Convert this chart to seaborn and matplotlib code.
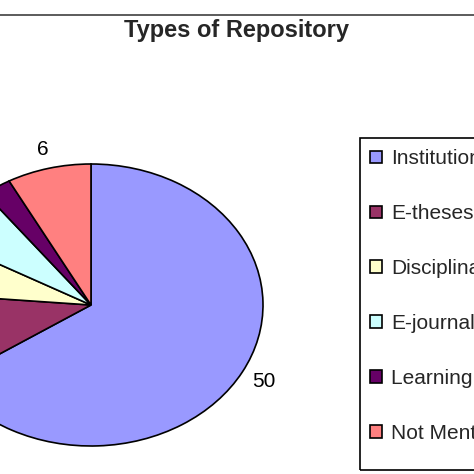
import matplotlib
matplotlib.use("Agg")
import matplotlib.pyplot as plt
import matplotlib.patches as patches
import seaborn as sns

# Data
categories = ["Institutional", "E-theses", "Disciplinary", "E-journal",
              "Learning Objects", "Not Mentioned"]
counts = [50, 8, 5, 5, 2, 6]
colors = ["#9999FF", "#993366", "#FFFFCC", "#CCFFFF", "#660066", "#FF8080"]

sns.set_theme(style="white")
plt.rcParams['font.family'] = ['Liberation Sans', 'DejaVu Sans']

W = H = 474
fig = plt.figure(figsize=(W / 100, H / 100), dpi=100)
fig.patch.set_facecolor("white")

# pie centre (91, 305) from top, radii 172 x 141 px -> stretched ellipse
cx, cy, rx, ry, lim = 91, 305, 172, 141, 1.3
ax = fig.add_axes([(cx - rx * lim) / W, (H - cy - ry * lim) / H,
                   2 * rx * lim / W, 2 * ry * lim / H])

total = sum(counts)
wedges, _, autotexts = ax.pie(
    counts,
    colors=sns.color_palette(colors),
    startangle=90,
    counterclock=False,
    autopct=lambda p: f"{p * total / 100:.0f}",
    pctdistance=1.14,
    wedgeprops=dict(edgecolor="black", linewidth=1.2),
    textprops=dict(fontsize=15, color="black"),
)
ax.set_aspect("auto")
ax.set_xlim(-lim, lim)
ax.set_ylim(-lim, lim)
ax.axis("off")

# chart title
fig.text(0.5, 1 - 31 / H, "Types of Repository", ha="center", va="center",
         fontsize=17, fontweight="bold")

# chart area border (only the top edge is inside the crop)
fig.add_artist(patches.Rectangle((-0.1, -0.1), 1.2, (H - 15) / H + 0.1,
                                 transform=fig.transFigure, fill=False,
                                 edgecolor="#404040", linewidth=1.2))

leg = fig.legend(wedges, categories, loc="upper left",
                 bbox_to_anchor=(359 / W, 1 - 138 / H),
                 fontsize=15, frameon=False,
                 handlelength=0.55, handleheight=0.55,
                 handletextpad=0.45, labelspacing=1.72, borderpad=0.55,
                 borderaxespad=0)

# legend box, drawn by hand (it runs past the right edge of the crop)
fig.add_artist(patches.Rectangle((360 / W, 1 - 470 / H), 0.5, 332 / H,
                                 transform=fig.transFigure, fill=False,
                                 edgecolor="black", linewidth=1.2))

# labels of the slices that fall outside the cropped picture are not shown
fig.canvas.draw()
for t in autotexts:
    if t.get_window_extent().x1 < 0:
        t.set_visible(False)

fig.savefig("out.png", dpi=100)
